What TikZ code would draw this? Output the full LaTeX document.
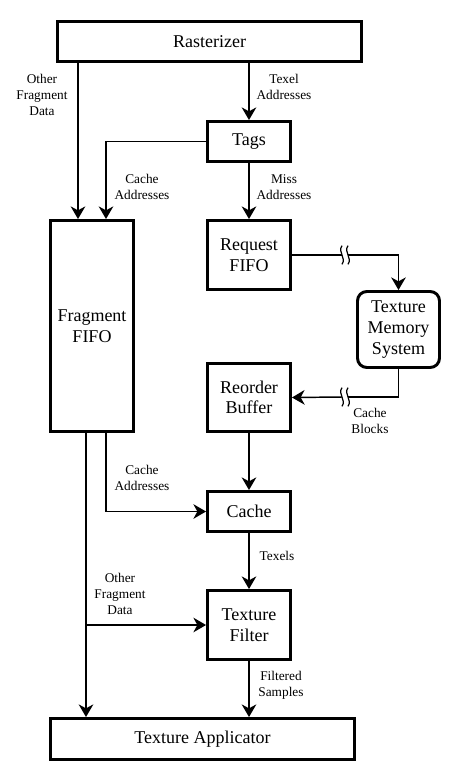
\documentclass[tikz,border=0pt]{standalone}
\usepackage{fontspec}
\setmainfont{Liberation Serif}
\usepackage{tikz}
\usetikzlibrary{arrows.meta}

\tikzset{
  block/.style={draw, line width=2.2pt, rectangle, align=center,
    font=\fontsize{13.5}{15.5}\selectfont, inner sep=0pt},
  flow/.style={line width=1.1pt, -{Stealth[length=9.5pt, width=11pt, inset=3pt]}},
  wire/.style={line width=1.1pt},
  lbl/.style={align=center, font=\fontsize{10}{12}\selectfont, inner sep=0pt},
}

\begin{document}
\begin{tikzpicture}[x=0.75pt, y=-0.75pt]
  \useasboundingbox (0,0) rectangle (474,783);

  % blocks
  \node[block, minimum width=228pt, minimum height=30pt] (rast) at (209.5,41.5) {Rasterizer};
  \node[block, minimum width=62.25pt, minimum height=30pt] (tags) at (249,141.5) {Tags};
  \node[block, minimum width=62.25pt, minimum height=158.25pt] (frag) at (92,326) {Fragment\\FIFO};
  \node[block, minimum width=62.25pt, minimum height=51.75pt] (req) at (249,255) {Request\\FIFO};
  \node[block, minimum width=61.5pt, minimum height=57pt, rounded corners=7pt] (tms) at (398.5,329.5) {Texture\\Memory\\System};
  \node[block, minimum width=62.25pt, minimum height=51pt] (reord) at (249,397.5) {Reorder\\Buffer};
  \node[block, minimum width=62.25pt, minimum height=30pt] (cache) at (249,511.5) {Cache};
  \node[block, minimum width=62.25pt, minimum height=51.75pt] (filt) at (249,625) {Texture\\Filter};
  \node[block, minimum width=228pt, minimum height=30.75pt] (app) at (202.5,739) {Texture Applicator};

  % break points on the memory links
  \coordinate (brkA) at (342,255);
  \coordinate (brkB) at (348,255);
  \coordinate (brkC) at (342,397);
  \coordinate (brkD) at (348,397);

  % connectors
  \draw[flow] (tags.north |- rast.south) -- (tags.north);
  \draw[flow] ([xshift=-10.5pt]frag.north |- rast.south) -- ([xshift=-10.5pt]frag.north);
  \draw[flow] (tags.west) -| ([xshift=10.5pt]frag.north);
  \draw[flow] (tags) -- (req);
  \draw[wire] (req.east) -- (brkA);
  \draw[flow] (brkB) -| (tms.north);
  \draw[wire] (tms.south) |- (brkD);
  \draw[flow] (brkC) -- (reord.east);
  \draw[flow] (reord) -- (cache);
  \draw[flow] (cache) -- (filt);
  \draw[flow] (filt.south) -- (filt.south |- app.north);
  \draw[flow] ([xshift=10.5pt]frag.south) |- (cache.west);
  \draw[flow] ([xshift=-4.5pt]frag.south) -- ([xshift=-4.5pt]frag.south |- app.north);
  \draw[flow] ([xshift=-4.5pt]frag.south |- filt.west) -- (filt.west);

  % break marks
  \foreach \b in {brkA,brkB,brkC,brkD}
    \draw[line width=0.9pt] ([yshift=7pt]\b) .. controls ([xshift=-3.5pt,yshift=2pt]\b) and ([xshift=3.5pt,yshift=-2pt]\b) .. ([yshift=-7pt]\b);

  % labels
  \node[lbl] (ofd1) at (42,95) {Other\\Fragment\\Data};
  \node[lbl] (texad) at (284,87) {Texel\\Addresses};
  \node[lbl] (cad1) at (142,187) {Cache\\Addresses};
  \node[lbl] (miss) at (284,187) {Miss\\Addresses};
  \node[lbl] (cblk) at (370,421) {Cache\\Blocks};
  \node[lbl] (cad2) at (142,478) {Cache\\Addresses};
  \node[lbl] (texl) at (277,556) {Texels};
  \node[lbl] (ofd2) at (120,594) {Other\\Fragment\\Data};
  \node[lbl] (fsmp) at (281,685) {Filtered\\Samples};
\end{tikzpicture}
\end{document}
